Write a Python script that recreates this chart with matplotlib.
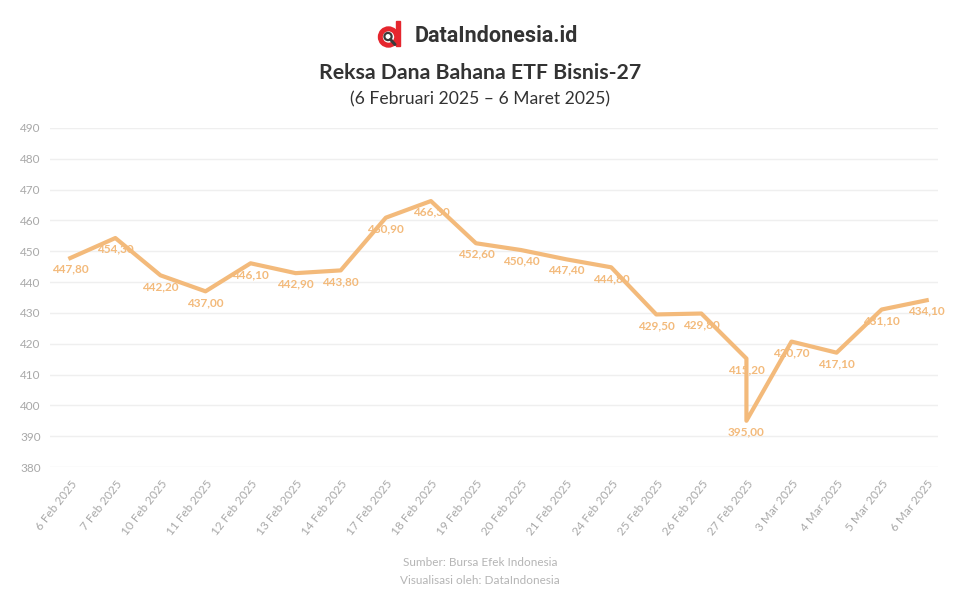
import matplotlib
matplotlib.use("Agg")
import matplotlib.pyplot as plt
from matplotlib.patches import Circle, Rectangle
from matplotlib.lines import Line2D

# ---------------- data ----------------
dates = ["6 Feb 2025", "7 Feb 2025", "10 Feb 2025", "11 Feb 2025", "12 Feb 2025",
         "13 Feb 2025", "14 Feb 2025", "17 Feb 2025", "18 Feb 2025", "19 Feb 2025",
         "20 Feb 2025", "21 Feb 2025", "24 Feb 2025", "25 Feb 2025", "26 Feb 2025",
         "27 Feb 2025", "27 Feb 2025", "3 Mar 2025", "4 Mar 2025", "5 Mar 2025",
         "6 Mar 2025"]
nav = [447.80, 454.30, 442.20, 437.00, 446.10, 442.90, 443.80, 460.90, 466.30,
       452.60, 450.40, 447.40, 444.80, 429.50, 429.80, 415.20, 395.00, 420.70,
       417.10, 431.10, 434.10]
y_ticks = [380, 390, 400, 410, 420, 430, 440, 450, 460, 470, 480, 490]

title = "Reksa Dana Bahana ETF Bisnis-27"
subtitle = "(6 Februari 2025 \u2013 6 Maret 2025)"
brand = "DataIndonesia.id"
footer1 = "Sumber: Bursa Efek Indonesia"
footer2 = "Visualisasi oleh: DataIndonesia"

# unique dates -> equidistant positions (time-series style axis)
uniq = []
for d in dates:
    if d not in uniq:
        uniq.append(d)
xpos = [uniq.index(d) for d in dates]

LINE = "#F3BA7B"
GRID = "#EFEFEF"
TICK = "#A8A8A8"

plt.rcParams["font.family"] = ["Lato", "DejaVu Sans"]

fig = plt.figure(figsize=(9.6, 6.0), dpi=100)
fig.patch.set_facecolor("white")

W, H = 960, 600
ax = fig.add_axes([50 / W, (H - 467) / H, (938 - 50) / W, (467 - 128) / H])
ax.plot(xpos, nav, color=LINE, lw=3, solid_joinstyle="round", zorder=3)
for x, v in zip(xpos, nav):
    ax.annotate(f"{v:.2f}".replace(".", ","), (x, v), xytext=(0, -4),
                textcoords="offset points", ha="center", va="top",
                fontsize=8.5, fontweight="bold", color=LINE, zorder=4)

ax.set_ylim(y_ticks[0], y_ticks[-1])
ax.set_yticks(y_ticks)
ax.set_yticklabels([str(t) for t in y_ticks])
ax.set_xlim(-0.45, len(uniq) - 1 + 0.25)
ax.set_xticks(range(len(uniq)))
ax.set_xticklabels(uniq, rotation=52, ha="right", va="top",
                   rotation_mode="anchor")
ax.tick_params(axis="both", length=0, colors=TICK, labelsize=8.5)
ax.tick_params(axis="x", pad=8)
ax.grid(axis="y", color=GRID, lw=1)
ax.set_axisbelow(True)
for s in ax.spines.values():
    s.set_visible(False)
for lab in ax.get_yticklabels():
    lab.set_horizontalalignment("center")
ax.tick_params(axis="y", pad=14)

# ---------------- overlay for header/footer ----------------
ov = fig.add_axes([0, 0, 1, 1], zorder=-1)
ov.set_xlim(0, W)
ov.set_ylim(H, 0)
ov.axis("off")

# logo icon
red = "#E5262E"
ov.add_patch(Circle((388.5, 37), 8.2, fill=False, lw=3.6, ec=red))
ov.add_patch(Rectangle((395.5, 21), 4.2, 25, color=red))
ov.add_patch(Circle((388, 36.5), 3.6, fill=False, lw=1.6, ec="#3A3A3A"))
ov.add_line(Line2D([390.5, 395], [39.5, 44.5], color="#3A3A3A", lw=2.2,
                   solid_capstyle="round"))
ov.text(415, 35.5, brand, ha="left", va="center", fontsize=15.5,
        fontweight="bold", color="#333333", family=["Roboto", "DejaVu Sans"])

ov.text(480, 73, title, ha="center", va="center", fontsize=15.3,
        fontweight="bold", color="#333333")
ov.text(480, 99, subtitle, ha="center", va="center", fontsize=12.6,
        color="#333333")

ov.text(480, 563, footer1, ha="center", va="center", fontsize=8.5,
        color="#B5B5B5")
ov.text(480, 580, footer2, ha="center", va="center", fontsize=8.5,
        color="#B5B5B5")

fig.savefig("out.png", dpi=100, facecolor="white")
